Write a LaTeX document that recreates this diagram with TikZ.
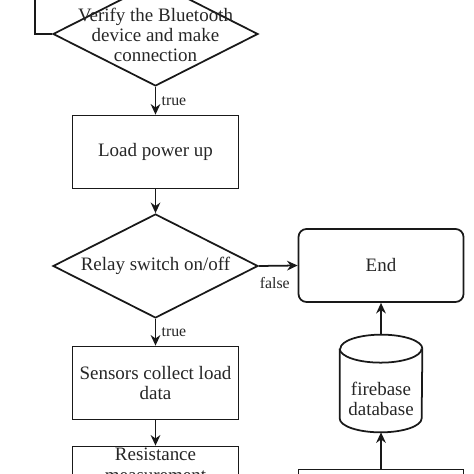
\documentclass[tikz,border=0pt]{standalone}
\usepackage{fontspec}
\setmainfont{Liberation Serif}
\usepackage{tikz}
\usetikzlibrary{shapes.geometric, arrows.meta}
\tikzstyle{process} = [rectangle, minimum width=3.32cm, minimum height=1.46cm, text centered, draw=black!90, line width=1pt]
\tikzstyle{decision} = [diamond, minimum width=4.1cm, minimum height=2.08cm, inner sep=0pt, draw=black!90, line width=1pt]
\tikzstyle{terminal} = [rectangle, rounded corners=0.16cm, minimum width=3.3cm, minimum height=1.46cm, text centered, draw=black!90, line width=1pt]
\tikzstyle{database} = [rectangle, minimum width=1.64cm, minimum height=1.94cm, inner sep=0pt]
\tikzstyle{caption} = [align=center, inner sep=0pt]
\tikzstyle{answer} = [font=\fontsize{9}{10}\selectfont, inner sep=3pt]
\tikzstyle{arrow} = [line width=1pt, draw=black!90, -{Stealth[length=6pt, width=5.5pt]}]
\tikzstyle{line} = [line width=1pt, draw=black!90]

\begin{document}
\begin{tikzpicture}[font=\fontsize{10.8}{11.6}\selectfont, text=black!85]
			\useasboundingbox (0,0) rectangle (9.48,9.48);
			\clip (0,0) rectangle (9.48,9.48);
			
			\node(verify) at (3.11, 8.80) [decision] {};
			\node(verifytext) at (3.11, 8.78) [caption] {Verify the Bluetooth\\device and make\\connection};
			\node(load) at (3.11, 6.44) [process] {Load power up};
			\node(relay) at (3.11, 4.16) [decision] {};
			\node(relaytext) at (3.11, 4.16) [caption] {Relay switch on/off};
			\node(sensors) at (3.11, 1.82) [process, align=center] {Sensors collect load\\data};
			\node(resistance) at (3.11, -0.18) [process] {};
			\node(resistancetext) at (3.11, 0.18) [caption] {Resistance\\measurement};
			\node(end) at (7.62, 4.17) [terminal] {End};
			\node(fire) at (7.62, 1.81) [database] {};
			\node(firetext) at (7.62, 1.50) [caption] {firebase\\database};
			\node(store) at (7.62, -0.64) [process, minimum width=3.3cm] {};
			\coordinate(looptop) at (0.70, 10);
			\draw [line] ([yshift=-0.28cm]fire.north west) -- ([yshift=0.28cm]fire.south west)
				arc [start angle=180, end angle=360, x radius=0.82cm, y radius=0.28cm]
				-- ([yshift=-0.28cm]fire.north east)
				arc [start angle=0, end angle=180, x radius=0.82cm, y radius=0.28cm];
			\draw [line] ([yshift=-0.28cm]fire.north west) arc [start angle=180, end angle=360, x radius=0.82cm, y radius=0.28cm];
			\draw [line] (verify.west) -| (looptop);
			\draw [arrow] (verify.south) -- node[answer, right] {true} (load.north);
			\draw [arrow] (load.south) -- (relay.north);
			\draw [arrow] (relay.east) -- node[answer, below=3pt, xshift=-2pt] {false} (end.west);
			\draw [arrow] (relay.south) -- node[answer, right] {true} (sensors.north);
			\draw [arrow] (sensors.south) -- (resistance.north);
			\draw [arrow] (fire.north) -- (end.south);
			\draw [arrow] (store.north) -- (fire.south);
		\end{tikzpicture}
\end{document}
